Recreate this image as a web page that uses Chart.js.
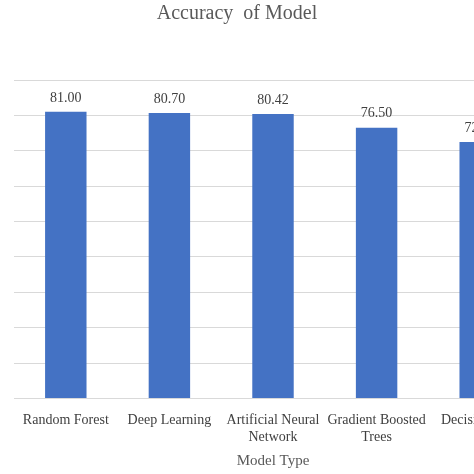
<!DOCTYPE html>
<html>
<head>
<script src="https://cdn.jsdelivr.net/npm/chart.js@4.4.0/dist/chart.umd.min.js"></script>
<style>
html,body{margin:0;padding:0;overflow:hidden;background:#fff;}
#wrap{width:570px;height:474px;position:relative;}
</style>
</head>
<body>
<div id="wrap"><canvas id="myChart"></canvas></div>
<script>
var labels = [['Random Forest'], ['Deep Learning'], ['Artificial Neural', 'Network'], ['Gradient Boosted', 'Trees'], ['Decision Tree']];
var accuracy = [81.00, 80.70, 80.42, 76.50, 72.50];
var chartTitle = 'Accuracy  of Model';
var font = 'Times New Roman, Liberation Serif, serif';

var extras = {
	id: 'extras',
	afterDatasetsDraw: function(chart) {
		var c = chart.ctx;
		var meta = chart.getDatasetMeta(0);
		c.save();
		c.font = '14px ' + font;
		c.fillStyle = '#404040';
		c.textAlign = 'center';
		c.textBaseline = 'bottom';
		meta.data.forEach(function(bar, i) {
			c.fillText(accuracy[i].toFixed(2), bar.x, bar.y - 7);
		});
		c.font = '20px ' + font;
		c.fillStyle = '#595959';
		c.textBaseline = 'middle';
		c.fillText(chartTitle, 237, 14);
		c.restore();
	}
};

new Chart(document.getElementById('myChart'), {
	type: 'bar',
	data: {
		labels: labels,
		datasets: [{
			label: 'Accuracy',
			data: accuracy,
			backgroundColor: '#4472C4',
			barPercentage: 0.4,
			categoryPercentage: 1
		}]
	},
	options: {
		responsive: true,
		maintainAspectRatio: false,
		animation: false,
		layout: { padding: { left: 14, right: 38, top: 80 } },
		plugins: {
			legend: { display: false },
			tooltip: { enabled: false }
		},
		scales: {
			y: {
				min: 0, max: 90,
				ticks: { display: false, stepSize: 10 },
				grid: { color: '#d9d9d9', drawTicks: false },
				border: { display: false }
			},
			x: {
				ticks: { color: '#404040', font: { family: font, size: 14 }, maxRotation: 0, autoSkip: false, padding: 6 },
				grid: { display: false },
				border: { color: '#d9d9d9' },
				title: { display: true, text: 'Model Type', color: '#595959', font: { family: font, size: 15 }, padding: { top: 0 } }
			}
		}
	},
	plugins: [extras]
});
</script>
</body>
</html>
